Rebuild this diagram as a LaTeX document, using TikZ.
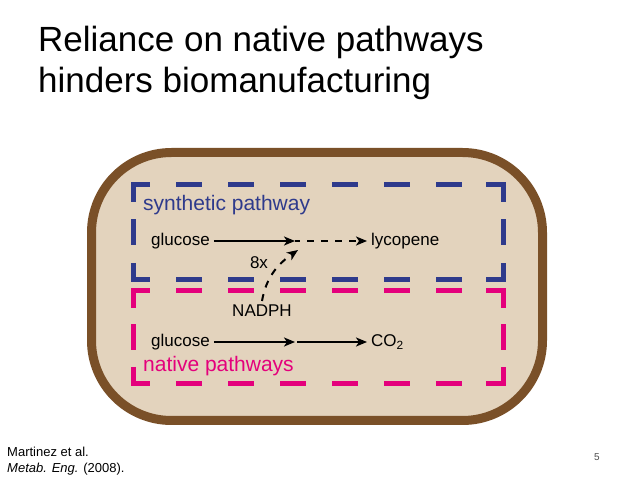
\documentclass[tikz,border=0pt]{standalone}
\usepackage{fontspec}
\setmainfont{Liberation Sans}
\usepackage{tikz}
\usetikzlibrary{arrows.meta}
\definecolor{cellfill}{RGB}{227,211,189}
\definecolor{cellwall}{RGB}{122,80,40}
\definecolor{synblue}{RGB}{46,58,140}
\definecolor{natpink}{RGB}{228,0,124}
\tikzset{
  lbl/.style={font=\fontsize{17}{20}\selectfont, inner sep=4pt},
  flow/.style={line width=2pt, -{Stealth[length=11pt,width=9pt,inset=3pt]}},
  flowdash/.style={flow, dash pattern=on 7pt off 7pt},
  boxline/.style={line width=5pt, line cap=butt, miter limit=10}
}
\begin{document}
\begin{tikzpicture}[x=1pt,y=-1pt]
  \useasboundingbox (0,0) rectangle (638,478);

  % Title
  \node[anchor=base west, inner sep=0pt, font=\fontsize{35}{40}\selectfont] (title1) at (38,52) {Reliance on native pathways};
  \node[anchor=base west, inner sep=0pt, font=\fontsize{35}{40}\selectfont] (title2) at (38,93) {hinders biomanufacturing};

  % Cell
  \draw[line width=9pt, draw=cellwall, fill=cellfill, rounded corners=80pt] (91.5,152.5) rectangle (542.5,420.5);

  % Synthetic box
  \begin{scope}[boxline, synblue]
    \draw (133,202) -- (133,185) -- (150,185);
    \draw (486,185) -- (503,185) -- (503,202);
    \draw (133,263) -- (133,280) -- (150,280);
    \draw (486,280) -- (503,280) -- (503,263);
    \foreach \x in {176,228,...,436} {
      \draw (\x,185) -- ++(26,0);
      \draw (\x,280) -- ++(26,0);
    }
    \draw (133,219.5) -- (133,245.5);
    \draw (503,219.5) -- (503,245.5);
  \end{scope}

  % Native box
  \begin{scope}[boxline, natpink]
    \draw (133,308) -- (133,291) -- (150,291);
    \draw (486,291) -- (503,291) -- (503,308);
    \draw (133,367) -- (133,384) -- (150,384);
    \draw (486,384) -- (503,384) -- (503,367);
    \foreach \x in {176,228,...,436} {
      \draw (\x,291) -- ++(26,0);
      \draw (\x,384) -- ++(26,0);
    }
    \draw (133,324.5) -- (133,350.5);
    \draw (503,324.5) -- (503,350.5);
  \end{scope}

  % Box titles
  \node[anchor=base west, inner sep=0pt, text=synblue, font=\fontsize{21}{24}\selectfont] (synT) at (143,211) {synthetic pathway};
  \node[anchor=base west, inner sep=0pt, text=natpink, font=\fontsize{21}{24}\selectfont] (natT) at (143,372) {native pathways};

  % Synthetic pathway
  \node[lbl, anchor=west] (glcS) at (147,241) {glucose};
  \node[lbl, anchor=west] (lyc) at (367,241) {lycopene};
  \coordinate (synMid) at (295,241);
  \coordinate (synJoin) at (298,250);
  \draw[flow] (glcS) -- (synMid);
  \draw[flowdash, dash phase=2pt] (synMid) -- (lyc);

  % Cofactor
  \node[lbl] (eight) at (259,263) {8x};
  \node[lbl] (nadph) at (262,311) {NADPH};
  \draw[flowdash] (nadph.north) to[out=80,in=215] (synJoin);

  % Native pathways
  \node[lbl, anchor=west] (glcN) at (147,342) {glucose};
  \node[lbl, anchor=west] (co2) at (367,342) {CO\textsubscript{2}};
  \coordinate (natMid) at (295,342);
  \draw[flow] (glcN) -- (natMid);
  \draw[flow, shorten <=2pt] (natMid) -- (co2);

  % Reference
  \node[anchor=base west, inner sep=0pt, font=\fontsize{13}{15}\selectfont] (ref1) at (7,457) {Martinez et al.};
  \node[anchor=base west, inner sep=0pt, font=\fontsize{13}{15}\selectfont] (ref2) at (7,473) {\textit{Metab. Eng.} (2008).};
  \node[anchor=base, inner sep=0pt, text=black!70, font=\fontsize{10}{12}\selectfont] (page) at (597,461) {5};
\end{tikzpicture}
\end{document}
